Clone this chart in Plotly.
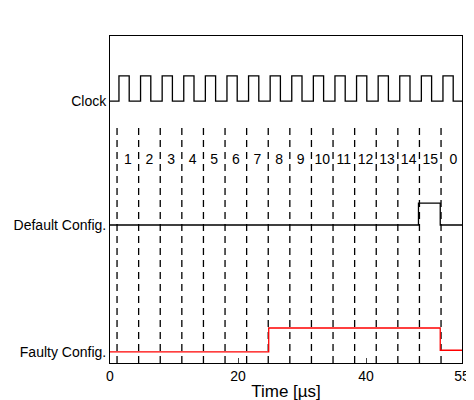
import plotly.graph_objects as go

clock_rise = [1.4 + 3.375 * k for k in range(16)]
clock_fall = [3.0 + 3.375 * k for k in range(16)]
dash_x = [1.1 + 3.375 * k for k in range(16)]
slot_labels = ["1","2","3","4","5","6","7","8","9","10","11","12","13","14","15","0"]
default_on, default_off = 48.2, 51.6
faulty_on, faulty_off = 24.8, 51.6
clk_lo, clk_hi = 80.1, 87.8
def_lo, def_hi = 42.2, 48.9
fau_lo, fau_hi = 3.4, 10.7
fau_end = 3.9
sig_labels = ["Clock", "Default Config.", "Faulty Config."]

fig = go.Figure()
for x in dash_x:
    fig.add_trace(go.Scatter(x=[x, x], y=[0, 72.5], mode="lines",
                             line=dict(color="black", width=1.3, dash="7px,5px"), showlegend=False))
fig.add_trace(go.Scatter(x=[(a + b) / 2 for a, b in zip(dash_x, dash_x[1:] + [55.6])][:16],
                         y=[62] * 16, mode="text", text=slot_labels,
                         textfont=dict(size=14, color="black"), showlegend=False))
cx, cy = [0], [clk_lo]
for r, f in zip(clock_rise, clock_fall):
    cx += [r, r, f, f]
    cy += [clk_lo, clk_hi, clk_hi, clk_lo]
cx.append(55); cy.append(clk_lo)
fig.add_trace(go.Scatter(x=cx, y=cy, mode="lines", line=dict(color="black", width=1.3), showlegend=False))
fig.add_trace(go.Scatter(x=[0, default_on, default_on, default_off, default_off, 55],
                         y=[def_lo, def_lo, def_hi, def_hi, def_lo, def_lo], mode="lines",
                         line=dict(color="black", width=1.3), showlegend=False))
fig.add_trace(go.Scatter(x=[0, faulty_on, faulty_on, faulty_off, faulty_off, 55],
                         y=[fau_lo, fau_lo, fau_hi, fau_hi, fau_end, fau_end], mode="lines",
                         line=dict(color="red", width=1.3), showlegend=False))

fig.update_layout(width=474, height=400, autosize=False, plot_bgcolor="white", paper_bgcolor="white",
                  margin=dict(l=102, r=20, t=28, b=45, autoexpand=False),
                  font=dict(family="Liberation Sans, Arial", size=14, color="black"))
fig.update_xaxes(range=[0, 55], tickvals=[0, 20, 40, 55], ticks="inside", ticklen=5,
                 automargin=False, showgrid=False, zeroline=False, showline=True,
                 linecolor="black", mirror=True, title=dict(text="Time [µs]", standoff=2))
fig.update_yaxes(range=[0, 100], tickvals=[clk_lo, def_lo, fau_lo], ticktext=sig_labels,
                 automargin=False, ticks="", ticklabelstandoff=0, showgrid=False, zeroline=False,
                 showline=True, linecolor="black", mirror=True)
fig.write_html("out.html")
